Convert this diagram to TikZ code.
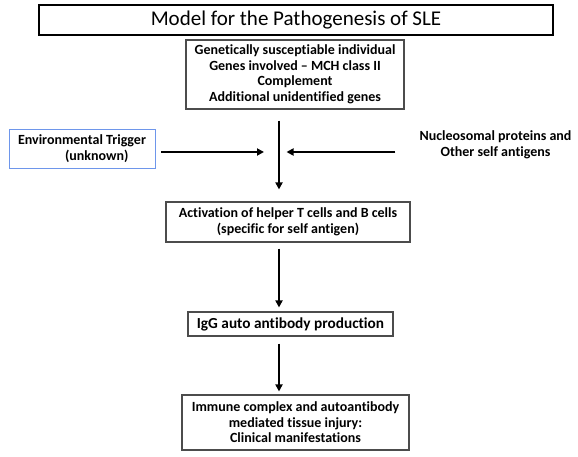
\documentclass[tikz,border=0pt]{standalone}
\usepackage{fontspec}
\setmainfont{Carlito}[Ligatures=NoCommon]
\usetikzlibrary{arrows.meta}
\definecolor{triggerblue}{RGB}{110,150,235}

\begin{document}
\begin{tikzpicture}[x=1pt, y=-1pt,
					every node/.style={rectangle, align=center, inner sep=3pt, font=\bfseries\fontsize{14}{15.5}\selectfont},
					box/.style={draw=black!70, line width=1.1pt},
					headbox/.style={draw=black, line width=2pt, font=\fontsize{21}{22}\selectfont},
					link/.style={line width=2.4pt, -{Triangle[length=7pt, width=7pt]}}]
					\useasboundingbox (0,0) rectangle (578,457);
					% boxes
					\node[headbox, minimum width=514pt, minimum height=30pt] (title) at (296,20) {Model for the Pathogenesis of SLE};
					\node[box, minimum width=218pt, minimum height=69pt] (genes) at (295,74.5) {Genetically susceptiable individual\\ Genes involved -- MCH class II\\ Complement\\ Additional unidentified genes};
					\node[box, draw=triggerblue, line width=0.9pt, align=left, minimum width=146pt, minimum height=39pt] (trigger) at (82,148.5) {Environmental Trigger\\ \hspace*{47pt}(unknown)};
					\node[font=\bfseries\fontsize{14}{16}\selectfont] (antigens) at (495.5,145) {Nucleosomal proteins and\\ Other self antigens};
					\node[box, minimum width=244pt, minimum height=40pt] (activation) at (288,222) {Activation of helper T cells and B cells\\ (specific for self antigen)};
					\node[box, font=\bfseries\fontsize{15.3}{16}\selectfont, minimum width=205pt, minimum height=24pt] (igg) at (290.5,324) {IgG auto antibody production};
					\node[box, minimum width=227pt, minimum height=55pt] (injury) at (295.5,422.5) {Immune complex and autoantibody\\ mediated tissue injury:\\ Clinical manifestations};
					\coordinate (join) at (279,152);
					% arrows
					\draw[link, shorten <=11pt, shorten >=12pt] (genes.south -| join) -- (activation.north -| join);
					\draw[link, shorten <=6pt, shorten >=15pt] (trigger.east |- join) -- (join);
					\draw[link, shorten <=21pt, shorten >=7.5pt] (antigens.west |- join) -- (join);
					\draw[link, shorten <=6pt, shorten >=4pt] (activation.south -| join) -- (igg.north -| join);
					\draw[link, shorten <=7pt, shorten >=3pt] (igg.south -| join) -- (injury.north -| join);
				\end{tikzpicture}
\end{document}
